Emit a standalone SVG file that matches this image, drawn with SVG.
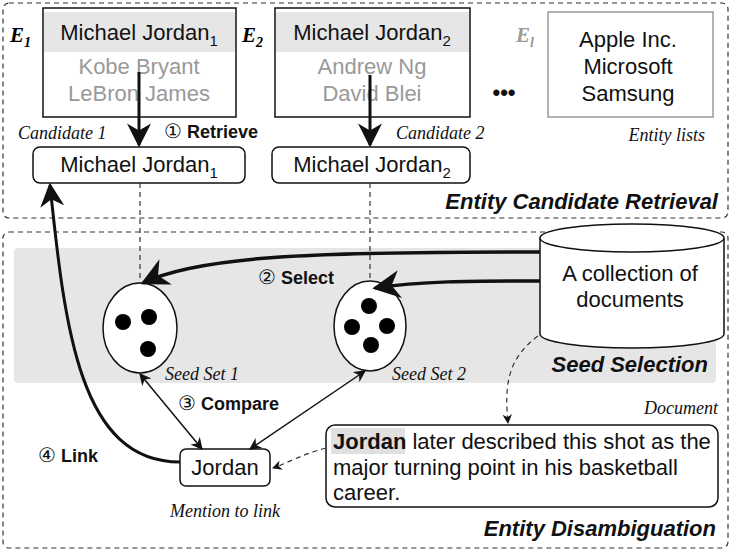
<svg xmlns="http://www.w3.org/2000/svg" width="731" height="551" viewBox="0 0 731 551">
<style>
.s{font-family:"Liberation Sans",Arial,sans-serif;font-size:22px;fill:#111}
.g{font-family:"Liberation Sans",Arial,sans-serif;font-size:22px;fill:#999}
.i{font-family:"Liberation Serif","Times New Roman",serif;font-style:italic;font-size:18px;fill:#111}
.t{font-family:"Liberation Sans",Arial,sans-serif;font-size:22px;font-weight:bold;font-style:italic;fill:#111}
.b{font-family:"Liberation Sans",Arial,sans-serif;font-size:18px;font-weight:bold;fill:#111}
.E{font-family:"Liberation Serif",serif;font-style:italic;font-weight:bold;font-size:21px}
.box{fill:#fff;stroke:#111;stroke-width:1.5}
.rb{fill:#fff;stroke:#111;stroke-width:1.5}
.dash{fill:none;stroke:#333;stroke-width:1.2;stroke-dasharray:5,4}
</style>
<defs>
<marker id="a2" viewBox="0 0 10 10" refX="9" refY="5" markerWidth="8" markerHeight="8" orient="auto-start-reverse"><path d="M0,0L10,5L0,10L3,5z" fill="#111"/></marker>
</defs>
<g id="sections">
<rect x="3" y="3" width="725" height="215" rx="6" class="dash"/>
<rect x="3" y="232" width="725" height="316" rx="6" class="dash"/>
<rect x="14" y="248" width="702" height="135" rx="4" fill="#e6e6e6"/>
<text x="718" y="209" class="t" text-anchor="end">Entity Candidate Retrieval</text>
<text x="708" y="372" class="t" text-anchor="end">Seed Selection</text>
<text x="716" y="536" class="t" text-anchor="end">Entity Disambiguation</text>
</g>
<g id="E1">
<rect x="43" y="8" width="193" height="109" class="box"/>
<rect x="44" y="12" width="191" height="40" fill="#e6e6e6"/>
<text x="10" y="42" class="E">E<tspan font-size="14" dy="5">1</tspan></text>
<text x="139" y="40" class="s" text-anchor="middle">Michael Jordan<tspan font-size="15" dy="6">1</tspan></text>
<text x="139" y="74" class="g" text-anchor="middle">Kobe Bryant</text>
<text x="139" y="101" class="g" text-anchor="middle">LeBron James</text>
</g>
<g id="E2">
<rect x="275" y="8" width="195" height="109" class="box"/>
<rect x="276" y="12" width="193" height="40" fill="#e6e6e6"/>
<text x="242" y="42" class="E">E<tspan font-size="14" dy="5">2</tspan></text>
<text x="372" y="40" class="s" text-anchor="middle">Michael Jordan<tspan font-size="15" dy="6">2</tspan></text>
<text x="372" y="74" class="g" text-anchor="middle">Andrew Ng</text>
<text x="372" y="101" class="g" text-anchor="middle">David Blei</text>
</g>
<text x="504" y="100" class="s" font-weight="bold" text-anchor="middle">•••</text>
<g id="El">
<rect x="548" y="12" width="165" height="105" fill="#fff" stroke="#999" stroke-width="1.5"/>
<text x="516" y="42" class="E" fill="#999">E<tspan font-size="14" dy="5">l</tspan></text>
<text x="628" y="47" class="s" fill="#666" text-anchor="middle">Apple Inc.</text>
<text x="628" y="74" class="s" fill="#666" text-anchor="middle">Microsoft</text>
<text x="628" y="101" class="s" fill="#666" text-anchor="middle">Samsung</text>
<text x="705" y="141" class="i" text-anchor="end">Entity lists</text>
</g>
<g id="cand1">
<rect x="33" y="147" width="212" height="36" rx="7" class="rb"/>
<text x="139" y="172" class="s" text-anchor="middle">Michael Jordan<tspan font-size="15" dy="6">1</tspan></text>
<text x="18" y="139" class="i">Candidate 1</text>
</g>
<g id="cand2">
<rect x="272" y="147" width="198" height="36" rx="7" class="rb"/>
<text x="372" y="172" class="s" text-anchor="middle">Michael Jordan<tspan font-size="15" dy="6">2</tspan></text>
<text x="396" y="139" class="i">Candidate 2</text>
</g>
<g id="docs">
<path d="M540,238 V334 A92,14 0 0 0 724,334 V238" fill="#fff" stroke="#111" stroke-width="1.5"/>
<ellipse cx="632" cy="238" rx="92" ry="14" fill="#fff" stroke="#111" stroke-width="1.5"/>
<text x="630" y="281" class="s" text-anchor="middle">A collection of</text>
<text x="630" y="307" class="s" text-anchor="middle">documents</text>
</g>
<g id="seed1">
<ellipse cx="140" cy="328" rx="37" ry="45" fill="#fff" stroke="#111" stroke-width="1.5"/>
<circle cx="123" cy="322" r="8"/><circle cx="149" cy="317" r="8"/><circle cx="148" cy="349" r="8"/>
<text x="165" y="380" class="i">Seed Set 1</text>
</g>
<g id="seed2">
<ellipse cx="370" cy="326" rx="36" ry="45" fill="#fff" stroke="#111" stroke-width="1.5"/>
<circle cx="369" cy="306" r="8"/><circle cx="352" cy="327" r="8"/><circle cx="387" cy="326" r="8"/><circle cx="371" cy="345" r="8"/>
<text x="392" y="380" class="i">Seed Set 2</text>
</g>
<g id="jordan">
<rect x="180" y="449" width="90" height="37" rx="6" class="rb"/>
<text x="225" y="475" class="s" text-anchor="middle">Jordan</text>
<text x="225" y="517" class="i" text-anchor="middle">Mention to link</text>
</g>
<g id="document">
<rect x="326" y="425" width="392" height="82" rx="9" class="rb"/>
<rect x="331" y="428" width="74" height="26" fill="#e0e0e0"/>
<text x="333" y="449" class="s" font-size="20"><tspan font-weight="bold">Jordan</tspan> later described this shot as the</text>
<text x="333" y="475" class="s" font-size="20">major turning point in his basketball</text>
<text x="333" y="500" class="s" font-size="20">career.</text>
<text x="718" y="414" class="i" text-anchor="end">Document</text>
</g>
<g id="connectors" fill="none" stroke="#111">
<line x1="139" y1="72" x2="139" y2="145" stroke-width="3" marker-end="url(#a2)"/>
<line x1="370" y1="75" x2="370" y2="145" stroke-width="3" marker-end="url(#a2)"/>
<line x1="140" y1="183" x2="140" y2="283" class="dash"/>
<line x1="370" y1="183" x2="370" y2="281" class="dash"/>
<path d="M540,252 C320,252 200,255 143,283" stroke-width="3.5" marker-end="url(#a2)"/>
<path d="M540,281 C470,281 420,281 375,288" stroke-width="3.5" marker-end="url(#a2)"/>
<path d="M140,374 L202,449" stroke-width="1.5" marker-start="url(#a2)" marker-end="url(#a2)"/>
<path d="M365,371 L250,449" stroke-width="1.5" marker-start="url(#a2)" marker-end="url(#a2)"/>
<path d="M180,462 C80,462 65,330 50,185" stroke-width="3" marker-end="url(#a2)"/>
<path d="M538,336 C505,360 505,390 508,423" class="dash" marker-end="url(#a2)"/>
<path d="M326,448 C300,455 290,462 273,468" class="dash" marker-end="url(#a2)"/>
</g>
<g id="labels">
<text x="164" y="138" class="b"><tspan font-weight="normal" font-size="20">①</tspan> Retrieve</text>
<text x="258" y="284" class="b"><tspan font-weight="normal" font-size="20">②</tspan> Select</text>
<text x="178" y="410" class="b"><tspan font-weight="normal" font-size="20">③</tspan> Compare</text>
<text x="38" y="462" class="b"><tspan font-weight="normal" font-size="20">④</tspan> Link</text>
</g>
</svg>
